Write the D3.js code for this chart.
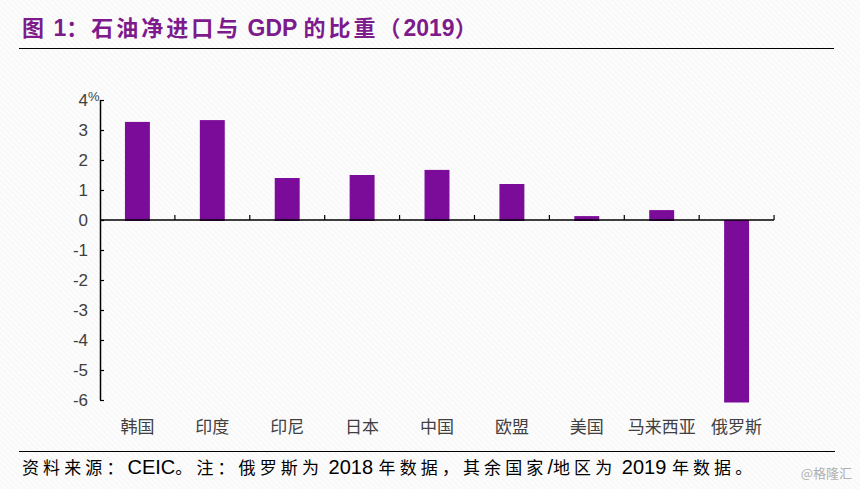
<!DOCTYPE html>
<html>
<head>
<meta charset="utf-8">
<script src="https://cdn.jsdelivr.net/npm/d3@7/dist/d3.min.js"></script>
<style>
  html, body { margin: 0; padding: 0; background: #fbfbfb; }
  #chart { width: 860px; height: 489px; }
  text { font-family: Arial, "Liberation Sans", "Noto Sans CJK SC", sans-serif; }
</style>
</head>
<body>
<div id="chart"></div>
<script>
// Data (% of GDP, 2019; Russia 2018)
const categories = ['韩国', '印度', '印尼', '日本', '中国', '欧盟', '美国', '马来西亚', '俄罗斯'];
const values = [3.27, 3.33, 1.40, 1.50, 1.67, 1.20, 0.13, 0.33, -6.05];
const yTicks = [4, 3, 2, 1, 0, -1, -2, -3, -4, -5, -6];

const titleText = '图 1：石油净进口与 GDP 的比重（2019）';
const sourceText = '资料来源：CEIC。注：俄罗斯为 2018 年数据，其余国家/地区为 2019 年数据。';

const width = 860, height = 489;
const margin = { top: 100, right: 86, bottom: 89, left: 100 };
const innerW = width - margin.left - margin.right;
const innerH = height - margin.top - margin.bottom;

const svg = d3.select('#chart').append('svg')
  .attr('width', width)
  .attr('height', height);

// faint diagonal hatching background
const defs = svg.append('defs');
const pat = defs.append('pattern')
  .attr('id', 'bg')
  .attr('width', 4).attr('height', 4)
  .attr('patternUnits', 'userSpaceOnUse')
  .attr('patternTransform', 'rotate(-45)');
pat.append('rect').attr('width', 4).attr('height', 4).attr('fill', '#fcfcfc');
pat.append('line').attr('x1', 0).attr('y1', 0).attr('x2', 0).attr('y2', 4)
  .attr('stroke', '#f1f1f1').attr('stroke-width', 1);
svg.append('rect').attr('width', width).attr('height', height).attr('fill', 'url(#bg)');

// split into CJK / latin runs so only the CJK part gets spaced out
function spacedText(sel, str, cjkSpacing, latinSize) {
  const runs = str.match(/[\u3000-\u9fff\uff00-\uffef]+|[^\u3000-\u9fff\uff00-\uffef]+/g);
  runs.forEach(r => {
    const cjk = /[\u3000-\u9fff\uff00-\uffef]/.test(r);
    const t = sel.append('tspan')
      .style('letter-spacing', cjk ? `${cjkSpacing}px` : '0px')
      .style('font-family', cjk ? '"Noto Sans CJK SC", sans-serif' : 'Arial, "Liberation Sans", sans-serif')
      .text(r);
    if (!cjk) t.style('font-size', `${latinSize}px`);
  });
}

// Title
const title = svg.append('text')
  .attr('x', 22).attr('y', 36)
  .attr('fill', '#7d1a8c')
  .style('font-size', '22px')
  .style('font-weight', 'bold');
spacedText(title, titleText, 3.0, 23);

svg.append('line')
  .attr('x1', 19).attr('x2', 834).attr('y1', 48.5).attr('y2', 48.5)
  .attr('stroke', '#000').attr('stroke-width', 1);

const plot = svg.append('g').attr('transform', `translate(${margin.left},${margin.top})`);

const x = d3.scaleBand().domain(categories).range([0, innerW]).paddingInner(0.667).paddingOuter(0.333);
const y = d3.scaleLinear().domain([-6, 4]).range([innerH, 0]);

// Bars
plot.selectAll('.bar')
  .data(categories.map((c, i) => ({ c, v: values[i] })))
  .enter().append('rect')
  .attr('class', 'bar')
  .attr('x', d => x(d.c))
  .attr('width', x.bandwidth())
  .attr('y', d => y(Math.max(0, d.v)))
  .attr('height', d => Math.abs(y(d.v) - y(0)) + 1)
  .attr('fill', '#7b0c99');

// Y axis (ticks point inward)
const yAxis = plot.append('g')
  .call(d3.axisRight(y).tickValues(yTicks).tickSize(4).tickFormat(''));
yAxis.select('.domain').attr('stroke', '#000').attr('stroke-width', 1.5).attr('d', `M0.5,0V${innerH}`);
yAxis.selectAll('.tick line').attr('stroke', '#000').attr('stroke-width', 1.2);

plot.selectAll('.ylab')
  .data(yTicks)
  .enter().append('text')
  .attr('class', 'ylab')
  .attr('x', -12)
  .attr('y', d => y(d) + 6)
  .attr('text-anchor', 'end')
  .attr('fill', '#404040')
  .style('font-size', '17px')
  .text(d => d);

plot.append('text')
  .attr('x', -12).attr('y', y(4) + 1)
  .attr('fill', '#404040')
  .style('font-size', '13px')
  .text('%');

// Zero line with category ticks
const zero = plot.append('g').attr('transform', `translate(0,${y(0)})`);
zero.append('line').attr('x1', 0).attr('x2', innerW)
  .attr('stroke', '#000').attr('stroke-width', 1.5);
const step = x.step();
zero.selectAll('.xt')
  .data(d3.range(1, categories.length + 1))
  .enter().append('line')
  .attr('class', 'xt')
  .attr('x1', d => d * step).attr('x2', d => d * step)
  .attr('y1', 0).attr('y2', -5)
  .attr('stroke', '#000').attr('stroke-width', 1.2);

// Category labels below the plot
plot.selectAll('.xlab')
  .data(categories)
  .enter().append('text')
  .attr('class', 'xlab')
  .attr('x', d => x(d) + x.bandwidth() / 2)
  .attr('y', innerH + 33)
  .attr('text-anchor', 'middle')
  .attr('fill', '#404040')
  .style('font-size', '17px')
  .style('font-family', '"Noto Sans CJK SC", sans-serif')
  .text(d => d);

// Footer
svg.append('line')
  .attr('x1', 19).attr('x2', 835).attr('y1', 451.5).attr('y2', 451.5)
  .attr('stroke', '#000').attr('stroke-width', 1);

const source = svg.append('text')
  .attr('x', 22).attr('y', 474)
  .attr('fill', '#000')
  .style('font-size', '17px');
spacedText(source, sourceText, 4.1, 20);

svg.append('text')
  .attr('x', 852).attr('y', 478)
  .attr('text-anchor', 'end')
  .attr('fill', '#b0b0b0')
  .style('font-size', '13px')
  .style('font-family', '"Noto Sans CJK SC", sans-serif')
  .text('@格隆汇');
</script>
</body>
</html>
